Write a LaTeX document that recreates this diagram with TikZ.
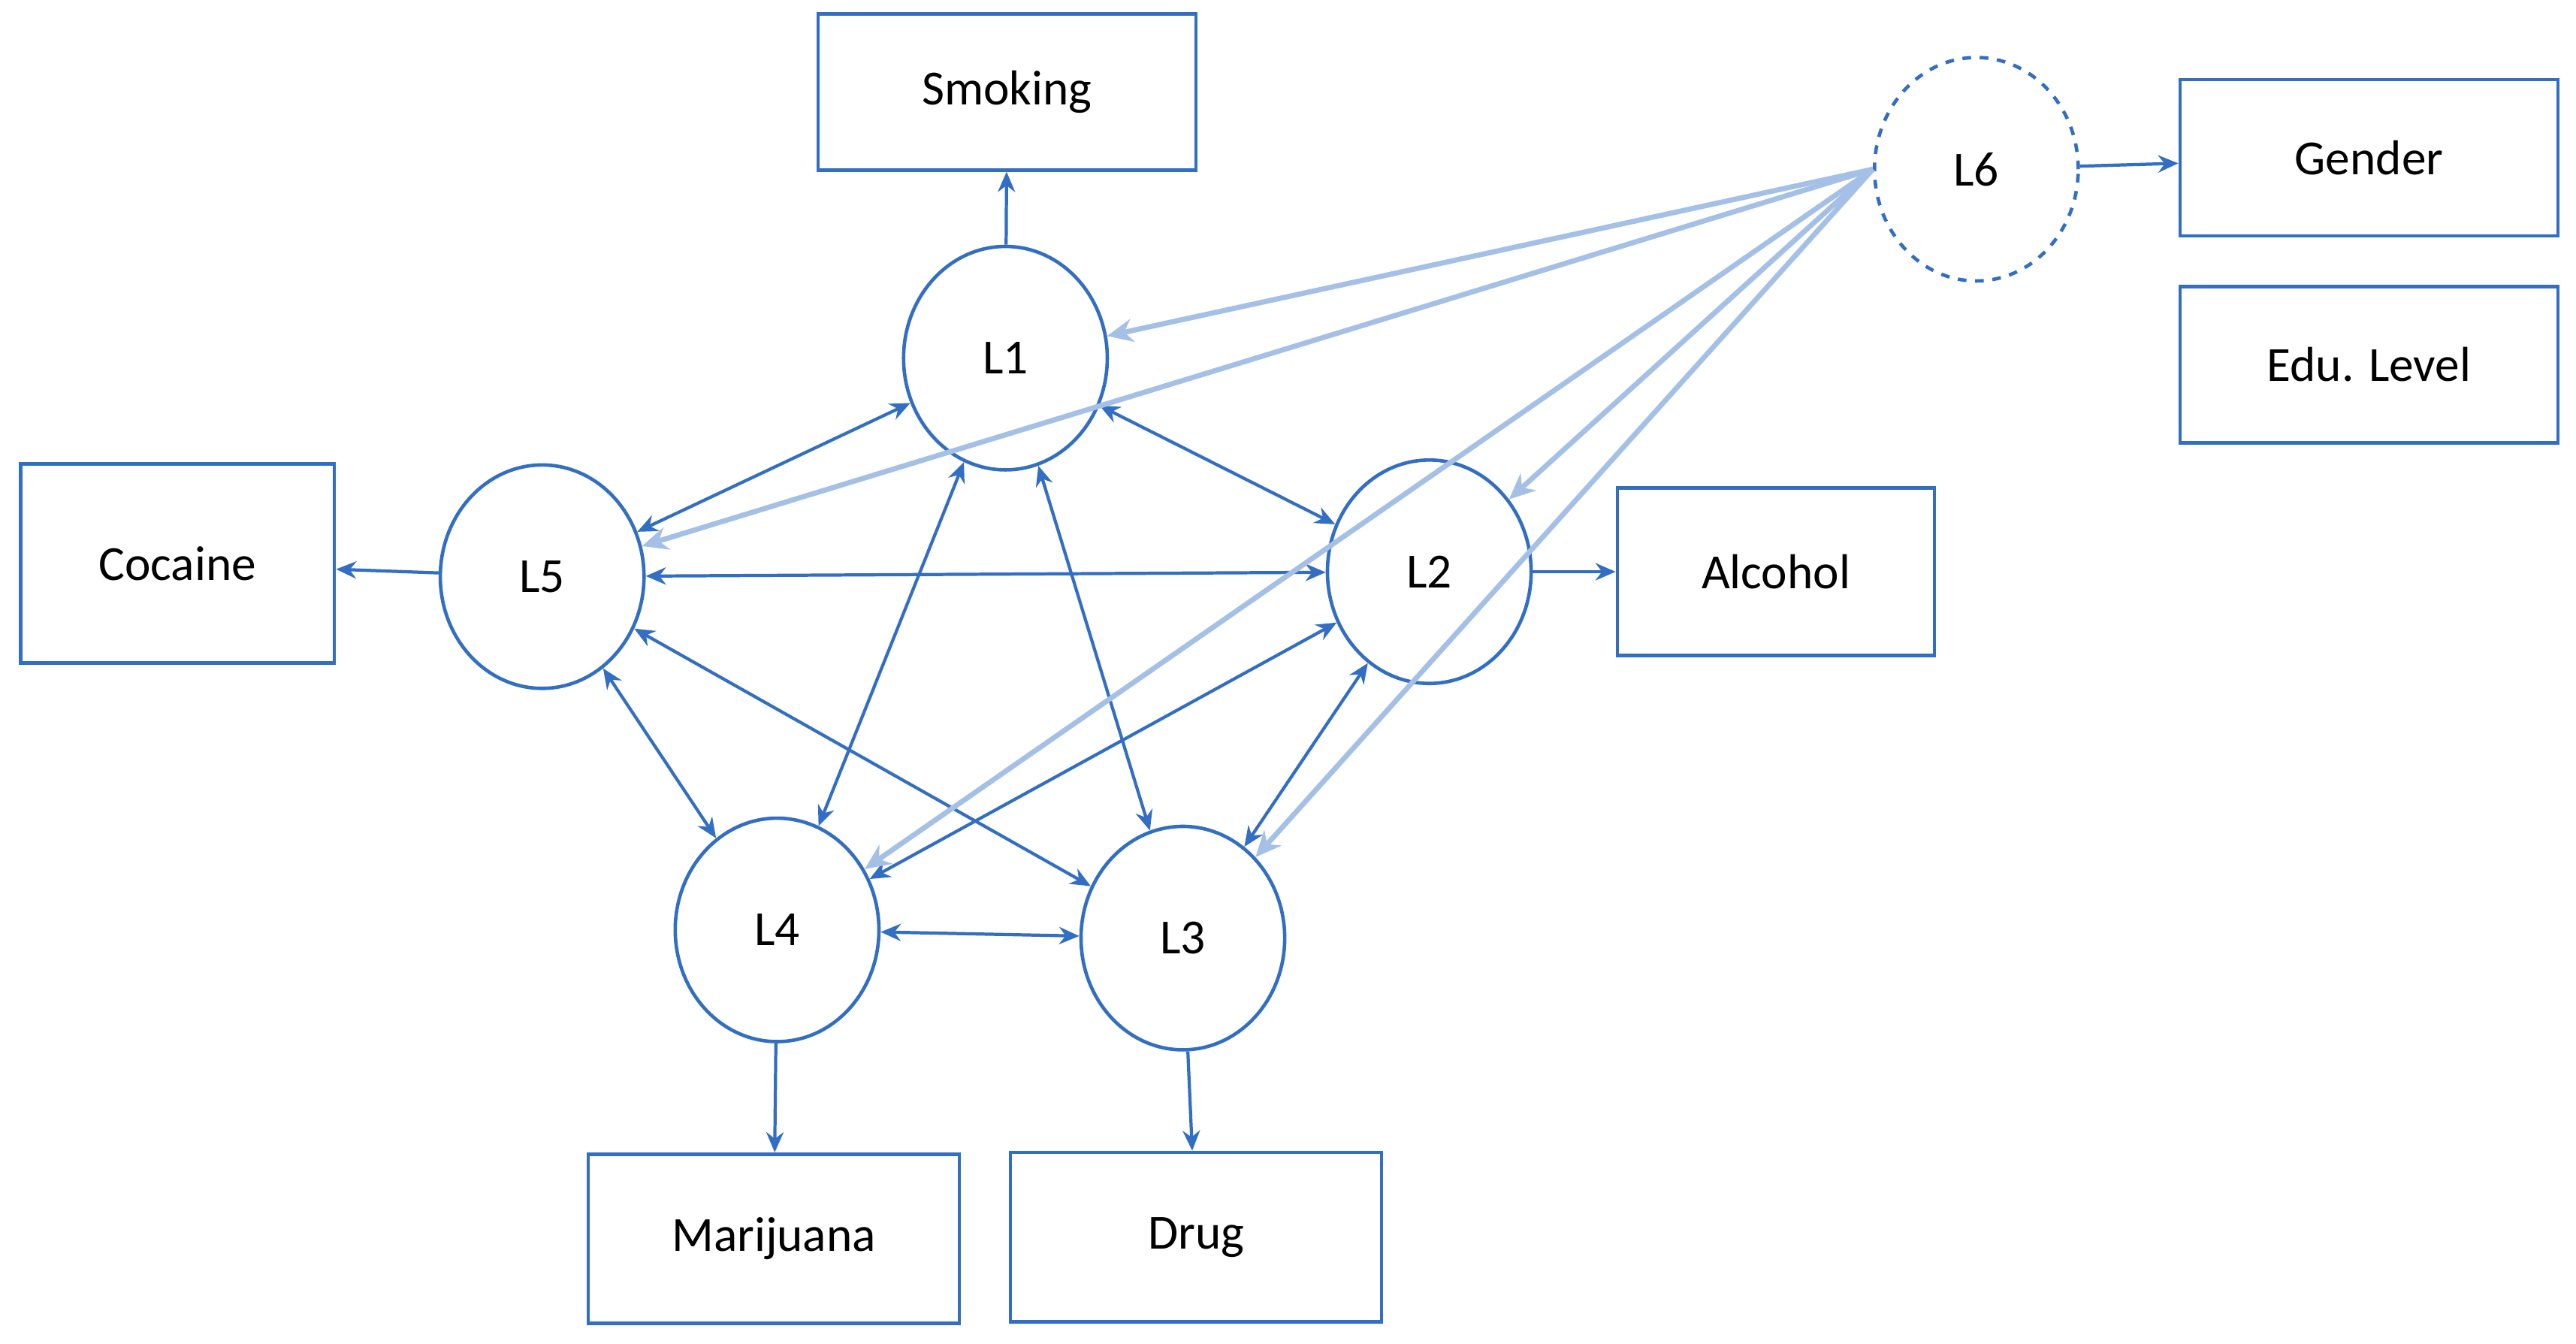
\documentclass[tikz,border=0pt]{standalone}
\usepackage{fontspec}
\setmainfont{Carlito}
\usetikzlibrary{arrows.meta}
\definecolor{bl}{RGB}{50,110,195}
\definecolor{lb}{RGB}{165,192,230}
\begin{document}
\begin{tikzpicture}[x=0.02cm,y=-0.02cm,
 box/.style={draw=bl,line width=1.2pt,minimum width=230*0.02cm,minimum height=95*0.02cm,font=\fontsize{17}{20}\selectfont,inner sep=0},
 lat/.style={draw=bl,line width=1.2pt,ellipse,minimum width=124*0.02cm,minimum height=136*0.02cm,font=\fontsize{17}{20}\selectfont,inner sep=0},
 ar/.style={draw=bl,line width=1.1pt,-{Stealth[length=7pt,width=6pt]}},
 bi/.style={draw=bl,line width=1.1pt,{Stealth[length=7pt,width=6pt]}-{Stealth[length=7pt,width=6pt]}},
 la/.style={draw=lb,line width=1.8pt,-{Stealth[length=9pt,width=8pt]}}]
\usetikzlibrary{shapes.geometric}
\useasboundingbox (0,0) rectangle (1568,818);
\node[box] (smk) at (613,56) {Smoking};
\node[box] (gen) at (1442,96) {Gender};
\node[box] (edu) at (1442,222) {Edu. Level};
\node[box,minimum width=191*0.02cm,minimum height=121*0.02cm] (coc) at (108,343) {Cocaine};
\node[box,minimum width=193*0.02cm,minimum height=102*0.02cm] (alc) at (1081,348) {Alcohol};
\node[box,minimum width=226*0.02cm,minimum height=103*0.02cm] (mar) at (471,754) {Marijuana};
\node[box,minimum width=226*0.02cm,minimum height=103*0.02cm] (drg) at (728,753) {Drug};
\node[lat] (L1) at (612,218) {L1};
\node[lat,dashed] (L6) at (1203,103) {L6};
\node[lat] (L5) at (330,351) {L5};
\node[lat] (L2) at (870,348) {L2};
\node[lat] (L4) at (473,566) {L4};
\node[lat] (L3) at (720,571) {L3};
\coordinate (s6) at (1140,103);
\draw[ar] (L1) -- (smk);
\draw[ar] (L6) -- (gen);
\draw[ar] (L5) -- (coc);
\draw[ar] (L2) -- (alc);
\draw[ar] (L4) -- (mar);
\draw[ar] (L3) -- (drg);
\draw[bi] (L1) -- (L5);
\draw[bi] (L1) -- (L2);
\draw[bi] (L5) -- (L2);
\draw[bi] (L5) -- (L4);
\draw[bi] (L5) -- (L3);
\draw[bi] (L1) -- (L4);
\draw[bi] (L1) -- (L3);
\draw[bi] (L2) -- (L4);
\draw[bi] (L2) -- (L3);
\draw[bi] (L4) -- (L3);
\draw[la] (s6) -- (L1);
\draw[la] (s6) -- (L5);
\draw[la] (s6) -- (L2);
\draw[la] (s6) -- (L4);
\draw[la] (s6) -- (L3);
\end{tikzpicture}
\end{document}
